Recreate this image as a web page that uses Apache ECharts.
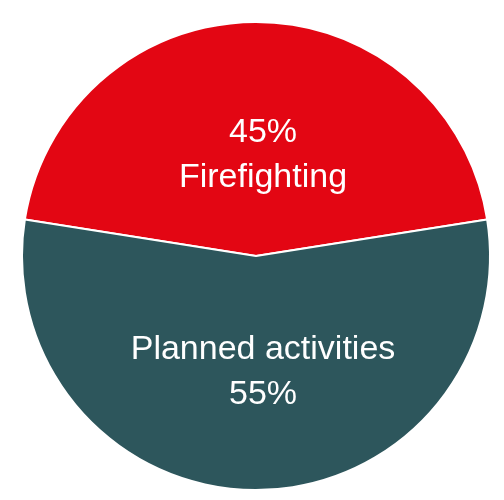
<!DOCTYPE html>
<html>
<head>
<meta charset="utf-8">
<script src="https://cdn.jsdelivr.net/npm/echarts@6/dist/echarts.min.js"></script>
<style>
  html, body { margin: 0; padding: 0; background: #ffffff; }
  #chart { width: 504px; height: 500px; }
</style>
</head>
<body>
<div id="chart"></div>
<script>
const categories = ['Firefighting', 'Planned activities'];
const values = [45, 55];
const colors = ['#E30613', '#2D565C'];
const labelFormats = ['{d}%\n{b}', '{b}\n{d}%'];

const chart = echarts.init(document.getElementById('chart'), null, { renderer: 'canvas' });

const data = categories.map((name, i) => ({
  name: name,
  value: values[i],
  itemStyle: { color: colors[i] },
  label: { formatter: labelFormats[i] }
}));

chart.setOption({
  animation: false,
  series: [{
    type: 'pie',
    center: [256, 256],
    radius: [0, 234],
    startAngle: 171,
    clockwise: true,
    avoidLabelOverlap: false,
    silent: true,
    itemStyle: { borderColor: '#ffffff', borderWidth: 2 },
    label: {
      show: true,
      position: 'inside',
      color: '#ffffff',
      fontFamily: 'Liberation Sans, Arial, sans-serif',
      fontSize: 34,
      lineHeight: 45,
      align: 'center'
    },
    labelLine: { show: false },
    labelLayout: function (params) {
      return params.dataIndex === 0 ? { dx: 7, dy: 19 } : { dx: 7, dy: -4 };
    },
    data: data
  }]
});
</script>
</body>
</html>
